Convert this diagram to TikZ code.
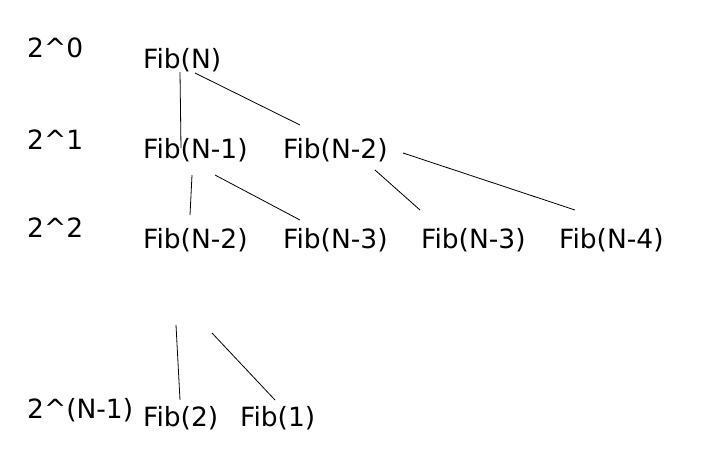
\documentclass[tikz,border=0pt]{standalone}
\usepackage{fontspec}
\setmainfont{DejaVu Sans}
\begin{document}
\begin{tikzpicture}[x=1pt,y=-1pt,
  lbl/.style={anchor=west,inner sep=0pt,font=\fontsize{26.5}{29}\selectfont},
  ln/.style={line width=0.8pt}]
\useasboundingbox[fill=white] (0,0) rectangle (718,472);
\node[lbl] (l0) at (27,48) {2\^{}0};
\node[lbl] (l1) at (27,140) {2\^{}1};
\node[lbl] (l2) at (27,228) {2\^{}2};
\node[lbl] (l3) at (27,410) {2\^{}(N-1)};
\node[lbl] (a) at (143,60) {Fib(N)};
\node[lbl] (b1) at (143,150) {Fib(N-1)};
\node[lbl] (b2) at (283,150) {Fib(N-2)};
\node[lbl] (c1) at (143,240) {Fib(N-2)};
\node[lbl] (c2) at (283,240) {Fib(N-3)};
\node[lbl] (c3) at (421,240) {Fib(N-3)};
\node[lbl] (c4) at (559,240) {Fib(N-4)};
\node[lbl] (d1) at (143,418) {Fib(2)};
\node[lbl] (d2) at (240,418) {Fib(1)};
\coordinate (p1) at (180,72); \coordinate (q1) at (181,148);
\coordinate (p2) at (195,73); \coordinate (q2) at (300,125);
\coordinate (p3) at (192,175); \coordinate (q3) at (190,215);
\coordinate (p4) at (215,175); \coordinate (q4) at (300,220);
\coordinate (p5) at (375,170); \coordinate (q5) at (420,210);
\coordinate (p6) at (403,153); \coordinate (q6) at (575,210);
\coordinate (p7) at (176,325); \coordinate (q7) at (180,400);
\coordinate (p8) at (212,333); \coordinate (q8) at (275,400);
\foreach \i in {1,...,8} \draw[ln] (p\i) -- (q\i);
\end{tikzpicture}
\end{document}
